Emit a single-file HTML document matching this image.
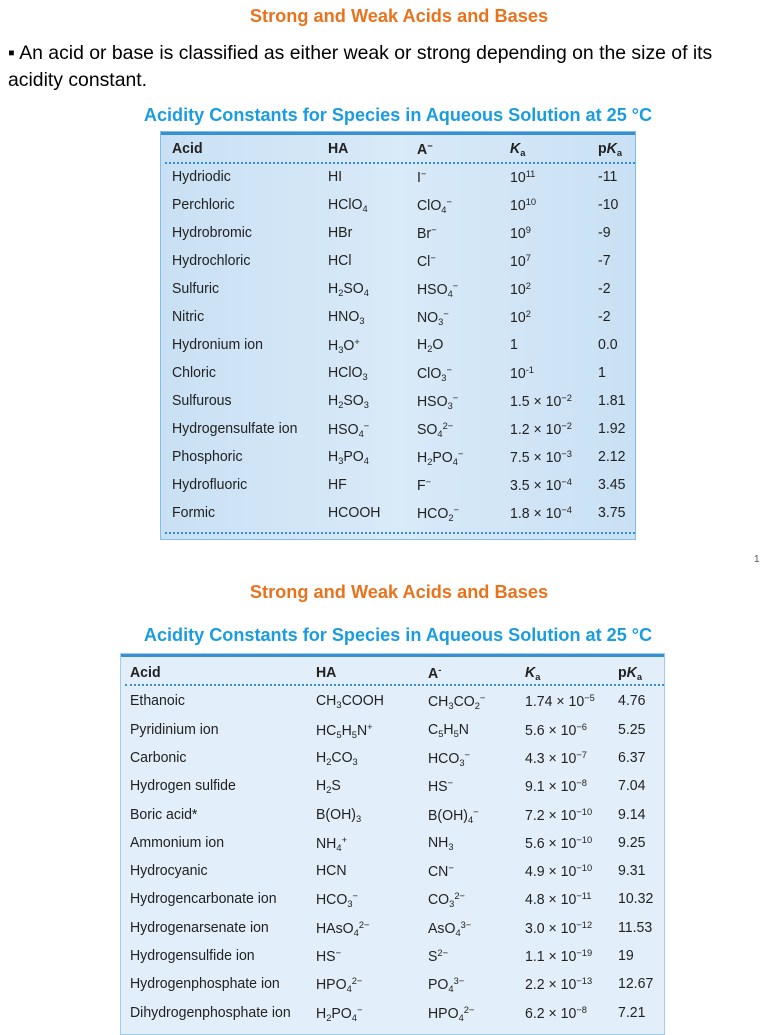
<!DOCTYPE html>
<html><head><meta charset="utf-8"><style>
body{margin:0;width:768px;height:1024px;background:#fff;position:relative;overflow:hidden;font-family:"Liberation Sans",sans-serif;}
.t{position:absolute;white-space:nowrap;}
.or{color:#e8731e;font-weight:bold;font-size:18.2px;left:0;width:798px;text-align:center;}
.bl{color:#1a9de0;font-weight:bold;font-size:18.1px;left:0;width:796px;text-align:center;}
.box{position:absolute;border:1px solid #7cc0ea;}
.box .bar{position:absolute;left:0;right:0;top:0;height:3px;background:#3a8fd0;}
.dot{position:absolute;left:4px;right:0;border-top:2px dotted #3a8fd0;}
.c{position:absolute;font-size:14.4px;color:#222;white-space:nowrap;transform:scaleX(0.98);transform-origin:left;}
.h{font-weight:bold;}
sub,sup{font-size:9.5px;}
sub{vertical-align:-3px;}sup{vertical-align:5px;}
</style></head><body>
<div class="t or" style="top:6px">Strong and Weak Acids and Bases</div>
<div class="t" style="left:8px;top:40px;font-size:19.4px;color:#000;line-height:27px">▪ An acid or base is classified as either weak or strong depending on the size of its<br>acidity constant.</div>
<div class="t bl" style="top:105px">Acidity Constants for Species in Aqueous Solution at 25 °C</div>

<div class="box" style="left:160px;top:131px;width:474px;height:407px;background:linear-gradient(90deg,#c9e0f4,#d9eaf8 50%,#c9e0f4)">
<div class="bar"></div>
<div class="dot" style="top:30px"></div>
<div class="dot" style="top:400px"></div>
</div>
<div id="t1"></div>

<div class="t" style="left:754px;top:554px;font-size:10px;color:#555">1</div>

<div class="t or" style="top:582px">Strong and Weak Acids and Bases</div>
<div class="t bl" style="top:625px">Acidity Constants for Species in Aqueous Solution at 25 °C</div>
<div class="box" style="left:120px;top:653px;width:543px;height:380px;background:#e2eef9;border-color:#9fcdee">
<div class="bar"></div>
<div class="dot" style="top:30px"></div>
</div>
<div id="t2"></div>

<script>
function build(id,cols,y0,dy,rows){
 var h='';
 rows.forEach(function(r,i){
  var y=y0+i*dy;
  r.forEach(function(c,j){
   h+='<div class="c'+(i==0?' h':'')+'" style="left:'+cols[j]+'px;top:'+(y-9)+'px">'+c+'</div>';
  });
 });
 document.getElementById(id).outerHTML=h;
}
build('t1',[172,328,417,510,598],150,28,[
['Acid','HA','A<sup>−</sup>','<i>K</i><sub>a</sub>','p<i>K</i><sub>a</sub>'],
['Hydriodic','HI','I<sup>−</sup>','10<sup>11</sup>','-11'],
['Perchloric','HClO<sub>4</sub>','ClO<sub>4</sub><sup>−</sup>','10<sup>10</sup>','-10'],
['Hydrobromic','HBr','Br<sup>−</sup>','10<sup>9</sup>','-9'],
['Hydrochloric','HCl','Cl<sup>−</sup>','10<sup>7</sup>','-7'],
['Sulfuric','H<sub>2</sub>SO<sub>4</sub>','HSO<sub>4</sub><sup>−</sup>','10<sup>2</sup>','-2'],
['Nitric','HNO<sub>3</sub>','NO<sub>3</sub><sup>−</sup>','10<sup>2</sup>','-2'],
['Hydronium ion','H<sub>3</sub>O<sup>+</sup>','H<sub>2</sub>O','1','0.0'],
['Chloric','HClO<sub>3</sub>','ClO<sub>3</sub><sup>−</sup>','10<sup>-1</sup>','1'],
['Sulfurous','H<sub>2</sub>SO<sub>3</sub>','HSO<sub>3</sub><sup>−</sup>','1.5 × 10<sup>−2</sup>','1.81'],
['Hydrogensulfate ion','HSO<sub>4</sub><sup>−</sup>','SO<sub>4</sub><sup>2−</sup>','1.2 × 10<sup>−2</sup>','1.92'],
['Phosphoric','H<sub>3</sub>PO<sub>4</sub>','H<sub>2</sub>PO<sub>4</sub><sup>−</sup>','7.5 × 10<sup>−3</sup>','2.12'],
['Hydrofluoric','HF','F<sup>−</sup>','3.5 × 10<sup>−4</sup>','3.45'],
['Formic','HCOOH','HCO<sub>2</sub><sup>−</sup>','1.8 × 10<sup>−4</sup>','3.75']]);
build('t2',[130,316,428,525,618],674,28.3,[
['Acid','HA','A<sup>-</sup>','<i>K</i><sub>a</sub>','p<i>K</i><sub>a</sub>'],
['Ethanoic','CH<sub>3</sub>COOH','CH<sub>3</sub>CO<sub>2</sub><sup>−</sup>','1.74 × 10<sup>−5</sup>','4.76'],
['Pyridinium ion','HC<sub>5</sub>H<sub>5</sub>N<sup>+</sup>','C<sub>5</sub>H<sub>5</sub>N','5.6 × 10<sup>−6</sup>','5.25'],
['Carbonic','H<sub>2</sub>CO<sub>3</sub>','HCO<sub>3</sub><sup>−</sup>','4.3 × 10<sup>−7</sup>','6.37'],
['Hydrogen sulfide','H<sub>2</sub>S','HS<sup>−</sup>','9.1 × 10<sup>−8</sup>','7.04'],
['Boric acid*','B(OH)<sub>3</sub>','B(OH)<sub>4</sub><sup>−</sup>','7.2 × 10<sup>−10</sup>','9.14'],
['Ammonium ion','NH<sub>4</sub><sup>+</sup>','NH<sub>3</sub>','5.6 × 10<sup>−10</sup>','9.25'],
['Hydrocyanic','HCN','CN<sup>−</sup>','4.9 × 10<sup>−10</sup>','9.31'],
['Hydrogencarbonate ion','HCO<sub>3</sub><sup>−</sup>','CO<sub>3</sub><sup>2−</sup>','4.8 × 10<sup>−11</sup>','10.32'],
['Hydrogenarsenate ion','HAsO<sub>4</sub><sup>2−</sup>','AsO<sub>4</sub><sup>3−</sup>','3.0 × 10<sup>−12</sup>','11.53'],
['Hydrogensulfide ion','HS<sup>−</sup>','S<sup>2−</sup>','1.1 × 10<sup>−19</sup>','19'],
['Hydrogenphosphate ion','HPO<sub>4</sub><sup>2−</sup>','PO<sub>4</sub><sup>3−</sup>','2.2 × 10<sup>−13</sup>','12.67'],
['Dihydrogenphosphate ion','H<sub>2</sub>PO<sub>4</sub><sup>−</sup>','HPO<sub>4</sub><sup>2−</sup>','6.2 × 10<sup>−8</sup>','7.21']]);
</script>
</body></html>
